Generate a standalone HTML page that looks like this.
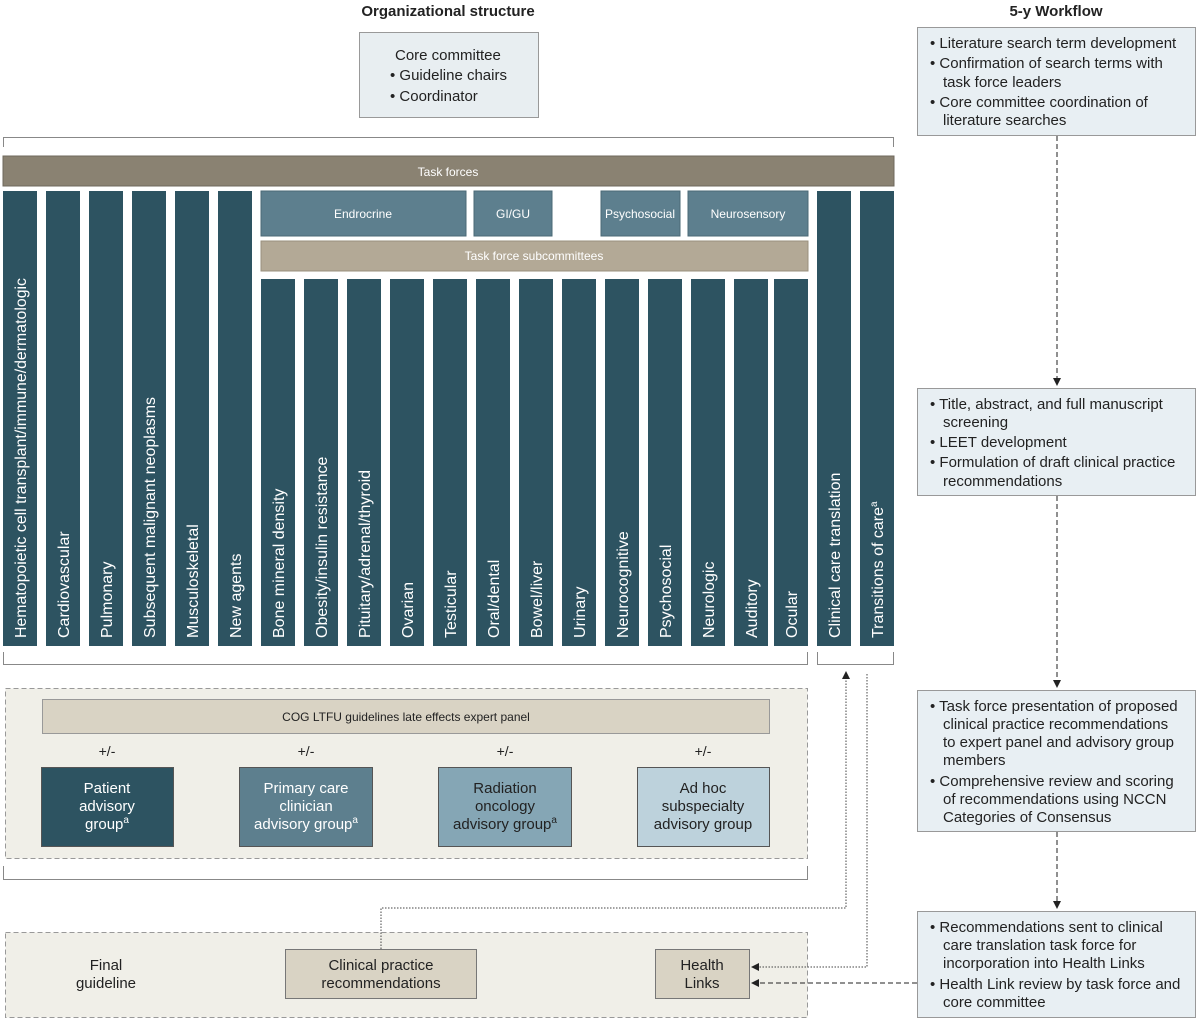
<!DOCTYPE html>
<html><head><meta charset="utf-8"><style>
body{margin:0;background:#fff}
svg{display:block;font-family:"Liberation Sans",sans-serif}
</style></head><body>
<svg width="1200" height="1021" viewBox="0 0 1200 1021" xmlns="http://www.w3.org/2000/svg">
<defs>
<marker id="ah" markerWidth="8" markerHeight="8" refX="7" refY="4" orient="auto" markerUnits="userSpaceOnUse"><path d="M0,0 L8,4 L0,8 z" fill="#222"/></marker>
</defs>
<text x="448" y="16" font-size="15" font-weight="bold" text-anchor="middle" fill="#222">Organizational structure</text>
<text x="1056" y="16" font-size="15" font-weight="bold" text-anchor="middle" fill="#222">5-y Workflow</text>

<rect x="359.5" y="32.5" width="179" height="85" fill="#e8eef1" stroke="#999"/>
<g font-size="15" fill="#222"><text x="395" y="60">Core committee</text><text x="390" y="80">• Guideline chairs</text><text x="390" y="101">• Coordinator</text></g>

<path d="M3.5,147 V137.5 H893.5 V147" fill="none" stroke="#888"/>
<rect x="3" y="156" width="891" height="30" fill="#8a8272" stroke="#6f685c"/>
<text x="448" y="176" font-size="12" fill="#fff" text-anchor="middle">Task forces</text>

<g fill="#2d5361">
<rect x="3" y="191" width="34" height="455"/><rect x="46" y="191" width="34" height="455"/><rect x="89" y="191" width="34" height="455"/><rect x="132" y="191" width="34" height="455"/><rect x="175" y="191" width="34" height="455"/><rect x="218" y="191" width="34" height="455"/>
<rect x="817" y="191" width="34" height="455"/><rect x="860" y="191" width="34" height="455"/>
<rect x="261" y="279" width="34" height="367"/><rect x="304" y="279" width="34" height="367"/><rect x="347" y="279" width="34" height="367"/><rect x="390" y="279" width="34" height="367"/><rect x="433" y="279" width="34" height="367"/><rect x="476" y="279" width="34" height="367"/><rect x="519" y="279" width="34" height="367"/><rect x="562" y="279" width="34" height="367"/><rect x="605" y="279" width="34" height="367"/><rect x="648" y="279" width="34" height="367"/><rect x="691" y="279" width="34" height="367"/><rect x="734" y="279" width="34" height="367"/><rect x="774" y="279" width="34" height="367"/>
</g>
<g fill="#5d7f8e" stroke="#4a6876">
<rect x="261" y="191" width="205" height="45"/><rect x="474" y="191" width="78" height="45"/><rect x="601" y="191" width="79" height="45"/><rect x="688" y="191" width="120" height="45"/>
</g>
<g font-size="12" fill="#fff" text-anchor="middle">
<text x="363" y="218">Endrocrine</text><text x="513" y="218">GI/GU</text><text x="640" y="218">Psychosocial</text><text x="748" y="218">Neurosensory</text>
</g>
<rect x="261" y="241" width="547" height="30" fill="#b3a996" stroke="#9a907e"/>
<text x="534" y="260" font-size="12" fill="#fff" text-anchor="middle">Task force subcommittees</text>

<g font-size="16" fill="#fff">
<text transform="translate(26,638) rotate(-90)" textLength="360" lengthAdjust="spacingAndGlyphs">Hematopoietic cell transplant/immune/dermatologic</text>
<text transform="translate(69,638) rotate(-90)">Cardiovascular</text>
<text transform="translate(112,638) rotate(-90)">Pulmonary</text>
<text transform="translate(155,638) rotate(-90)">Subsequent malignant neoplasms</text>
<text transform="translate(198,638) rotate(-90)">Musculoskeletal</text>
<text transform="translate(241,638) rotate(-90)">New agents</text>
<text transform="translate(284,638) rotate(-90)">Bone mineral density</text>
<text transform="translate(327,638) rotate(-90)">Obesity/insulin resistance</text>
<text transform="translate(370,638) rotate(-90)">Pituitary/adrenal/thyroid</text>
<text transform="translate(413,638) rotate(-90)">Ovarian</text>
<text transform="translate(456,638) rotate(-90)">Testicular</text>
<text transform="translate(499,638) rotate(-90)">Oral/dental</text>
<text transform="translate(542,638) rotate(-90)">Bowel/liver</text>
<text transform="translate(585,638) rotate(-90)">Urinary</text>
<text transform="translate(628,638) rotate(-90)">Neurocognitive</text>
<text transform="translate(671,638) rotate(-90)">Psychosocial</text>
<text transform="translate(714,638) rotate(-90)">Neurologic</text>
<text transform="translate(757,638) rotate(-90)">Auditory</text>
<text transform="translate(797,638) rotate(-90)">Ocular</text>
<text transform="translate(840,638) rotate(-90)">Clinical care translation</text>
<text transform="translate(883,638) rotate(-90)">Transitions of care<tspan font-size="10" dy="-6">a</tspan></text>
</g>

<g fill="none" stroke="#888">
<path d="M3.5,652 V664.5 H807.5 V652"/>
<path d="M817.5,652 V664.5 H893.5 V652"/>
<path d="M3.5,866 V879.5 H807.5 V866"/>
</g>

<rect x="5.5" y="688.5" width="802" height="170" fill="#f0efe8" stroke="#999" stroke-dasharray="5,3"/>
<rect x="42.5" y="699.5" width="727" height="34" fill="#d9d3c4" stroke="#999"/>
<text x="406" y="721" font-size="12" fill="#222" text-anchor="middle">COG LTFU guidelines late effects expert panel</text>
<g font-size="14" fill="#222" text-anchor="middle"><text x="107" y="756">+/-</text><text x="306" y="756">+/-</text><text x="505" y="756">+/-</text><text x="703" y="756">+/-</text></g>
<rect x="41.5" y="767.5" width="132" height="79" fill="#2d5361" stroke="#555"/>
<rect x="239.5" y="767.5" width="133" height="79" fill="#5d7f8e" stroke="#555"/>
<rect x="438.5" y="767.5" width="133" height="79" fill="#85a6b5" stroke="#555"/>
<rect x="637.5" y="767.5" width="132" height="79" fill="#bdd2dc" stroke="#555"/>
<g font-size="15" text-anchor="middle">
<g fill="#fff"><text x="107" y="793">Patient</text><text x="107" y="811">advisory</text><text x="107" y="829">group<tspan font-size="10" dy="-6">a</tspan></text>
<text x="306" y="793">Primary care</text><text x="306" y="811">clinician</text><text x="306" y="829">advisory group<tspan font-size="10" dy="-6">a</tspan></text></g>
<g fill="#222"><text x="505" y="793">Radiation</text><text x="505" y="811">oncology</text><text x="505" y="829">advisory group<tspan font-size="10" dy="-6">a</tspan></text>
<text x="703" y="793">Ad hoc</text><text x="703" y="811">subspecialty</text><text x="703" y="829">advisory group</text></g>
</g>

<rect x="5.5" y="932.5" width="802" height="85" fill="#f0efe8" stroke="#999" stroke-dasharray="5,3"/>
<g font-size="15" fill="#222" text-anchor="middle"><text x="106" y="970">Final</text><text x="106" y="988">guideline</text></g>
<rect x="285.5" y="949.5" width="191" height="49" fill="#d9d3c4" stroke="#777"/>
<g font-size="15" fill="#222" text-anchor="middle"><text x="381" y="970">Clinical practice</text><text x="381" y="988">recommendations</text></g>
<rect x="655.5" y="949.5" width="94" height="49" fill="#d9d3c4" stroke="#777"/>
<g font-size="15" fill="#222" text-anchor="middle"><text x="702" y="970">Health</text><text x="702" y="988">Links</text></g>

<g fill="none" stroke="#444" stroke-dasharray="1.5,1.5">
<path d="M381,949 V908 H846 V672" marker-end="url(#ah)"/>
<path d="M867,674 V967 H752" marker-end="url(#ah)"/>
</g>
<g fill="none" stroke="#222" stroke-dasharray="5,3">
<path d="M917,983 H752" marker-end="url(#ah)"/>
<path d="M1057,136 V385" marker-end="url(#ah)"/>
<path d="M1057,496 V687" marker-end="url(#ah)"/>
<path d="M1057,832 V908" marker-end="url(#ah)"/>
</g>

<g fill="#e8eff3" stroke="#999">
<rect x="917.5" y="27.5" width="278" height="108"/>
<rect x="917.5" y="388.5" width="278" height="107"/>
<rect x="917.5" y="690.5" width="278" height="141"/>
<rect x="917.5" y="911.5" width="278" height="106"/>
</g>
<g font-size="15" fill="#222">
<text x="930" y="48">• Literature search term development</text>
<text x="930" y="68">• Confirmation of search terms with</text><text x="943" y="87">task force leaders</text>
<text x="930" y="107">• Core committee coordination of</text><text x="943" y="125">literature searches</text>

<text x="930" y="409">• Title, abstract, and full manuscript</text><text x="943" y="427">screening</text>
<text x="930" y="447">• LEET development</text>
<text x="930" y="467">• Formulation of draft clinical practice</text><text x="943" y="486">recommendations</text>

<text x="930" y="711">• Task force presentation of proposed</text><text x="943" y="729">clinical practice recommendations</text><text x="943" y="747">to expert panel and advisory group</text><text x="943" y="765">members</text>
<text x="930" y="786">• Comprehensive review and scoring</text><text x="943" y="804">of recommendations using NCCN</text><text x="943" y="822">Categories of Consensus</text>

<text x="930" y="932">• Recommendations sent to clinical</text><text x="943" y="950">care translation task force for</text><text x="943" y="968">incorporation into Health Links</text>
<text x="930" y="989">• Health Link review by task force and</text><text x="943" y="1007">core committee</text>
</g>
</svg>
</body></html>
